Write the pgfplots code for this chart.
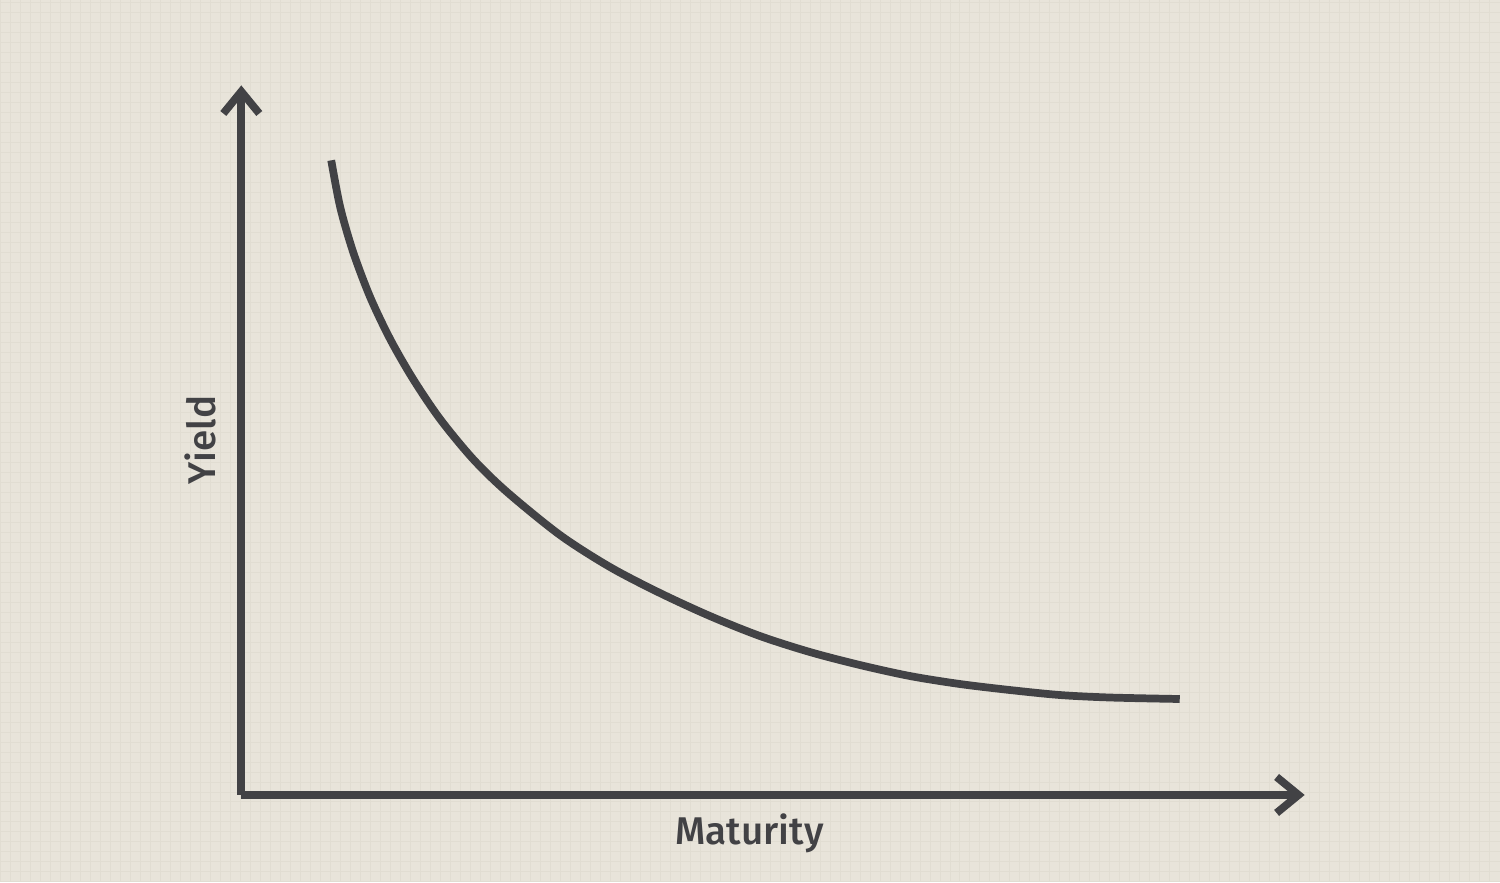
\documentclass[border=0pt]{standalone}
\usepackage{fontspec}
\setmainfont{Fira Sans}[UprightFont={* Medium}]
\usepackage{pgfplots}
\pgfplotsset{compat=1.18}
\usetikzlibrary{arrows.meta}
\definecolor{bg}{HTML}{E8E4DA}
\definecolor{bggrid}{HTML}{E1DDD2}
\definecolor{ink}{HTML}{424245}
\begin{document}
\begin{tikzpicture}[x=1cm,y=1cm]
% paper background, 1 px = 0.1 mm
\fill[bg] (0,0) rectangle (15,8.82);
\draw[bggrid, line width=0.25pt, step=0.1] (0,0) grid (15,8.82);
\begin{axis}[
	at={(2.41cm,0.87cm)}, anchor=south west,
	scale only axis,
	width=10.64cm, height=7.10cm,
	xmin=0, xmax=1064, ymin=0, ymax=710,
	axis lines=left,
	axis line style={ink, line width=2.2pt, -{Straight Barb[length=2.2mm,width=3.6mm,line width=2.2pt]}},
	xtick=\empty, ytick=\empty,
	xlabel={Maturity}, ylabel={Yield},
	xlabel style={at={(axis description cs:0.478,0)}, anchor=center, yshift=-3.8mm},
	ylabel style={at={(axis description cs:0,0.5)}, anchor=center, yshift=4.1mm},
	label style={font=\fontsize{11}{13}\selectfont, text=ink},
	clip=false,
]
\addplot[ink, line width=2.2pt, smooth, tension=0.5] coordinates {
	(90,635) (99,588) (112,543) (129,498) (149,456) (172,416) (199,376)
	(232,336) (266,303) (319,260) (369,228) (419,202) (469,179)
	(519,159) (569,143) (619,130) (669,119) (719,111) (769,105)
	(819,100) (869,97.5) (939,96)
};
\end{axis}
\end{tikzpicture}
\end{document}
